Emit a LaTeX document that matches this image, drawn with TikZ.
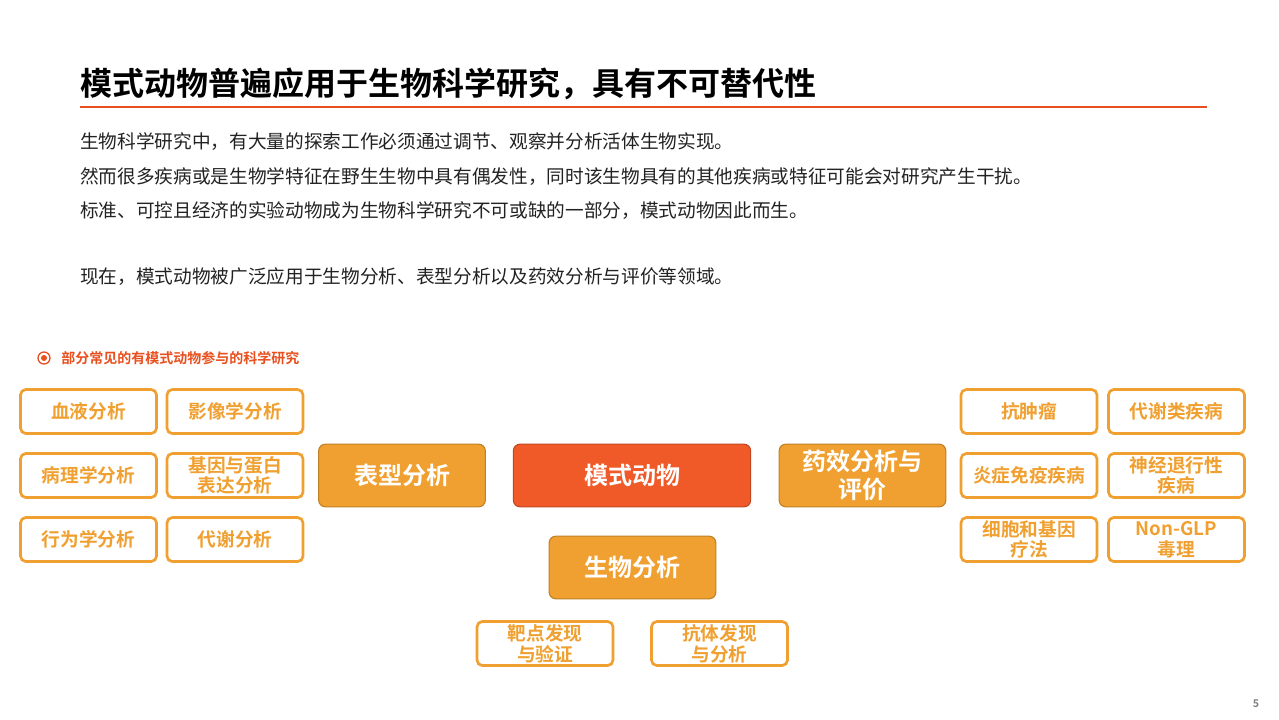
\documentclass[tikz,border=0pt]{standalone}
\usepackage{fontspec}
\setmainfont{Noto Sans CJK SC}
\newfontfamily\cjkb{Noto Sans CJK SC Bold}
\definecolor{org}{HTML}{F0A030}
\definecolor{red1}{HTML}{F05A28}
\definecolor{line1}{HTML}{E8501F}
\definecolor{txt}{HTML}{222222}
\begin{document}
\begin{tikzpicture}[x=0.75pt,y=-0.75pt]
\tikzset{
 sbox/.style={draw=org,line width=2pt,rounded corners=4pt,fill=white,text=org,font=\cjkb\fontsize{14}{15}\selectfont,align=center,minimum width=102pt,minimum height=33pt,inner sep=1pt},
 bbox/.style={draw=org!80!black,line width=0.8pt,rounded corners=5pt,fill=org,text=white,font=\cjkb\fontsize{18}{19}\selectfont,align=center,minimum width=125pt,minimum height=47pt,inner sep=1pt},
 body/.style={anchor=west,text=txt,font=\fontsize{14}{15}\selectfont,inner sep=0}
}
\useasboundingbox (0,0) rectangle (1279,719);
\fill[white] (0,0) rectangle (1279,719);
\node[anchor=west,inner sep=0,font=\cjkb\fontsize{24}{26}\selectfont,text=black] (title) at (80,84) {模式动物普遍应用于生物科学研究，具有不可替代性};
\draw[line1,line width=1.2pt] (80,107) -- (1207,107);
\node[body] (l1) at (80,142) {生物科学研究中，有大量的探索工作必须通过调节、观察并分析活体生物实现。};
\node[body] (l2) at (80,177) {然而很多疾病或是生物学特征在野生生物中具有偶发性，同时该生物具有的其他疾病或特征可能会对研究产生干扰。};
\node[body] (l3) at (80,211) {标准、可控且经济的实验动物成为生物科学研究不可或缺的一部分，模式动物因此而生。};
\node[body] (l4) at (80,277) {现在，模式动物被广泛应用于生物分析、表型分析以及药效分析与评价等领域。};
\draw[line1,line width=1pt] (44,358) circle (6);
\fill[line1] (44,358) circle (3);
\node[anchor=west,inner sep=0,text=line1,font=\cjkb\fontsize{10.5}{11}\selectfont] (leg) at (61,358) {部分常见的有模式动物参与的科学研究};
% small boxes
\node[sbox] (a1) at (88.5,411.5) {血液分析};
\node[sbox] (a2) at (235,411.5) {影像学分析};
\node[sbox] (a3) at (88.5,475.5) {病理学分析};
\node[sbox,font=\cjkb\fontsize{14}{15.5}\selectfont] (a4) at (235,475.5) {基因与蛋白\\表达分析};
\node[sbox] (a5) at (88.5,539.5) {行为学分析};
\node[sbox] (a6) at (235,539.5) {代谢分析};
\node[sbox] (b1) at (1029,411.5) {抗肿瘤};
\node[sbox] (b2) at (1176.5,411.5) {代谢类疾病};
\node[sbox] (b3) at (1029,475.5) {炎症免疫疾病};
\node[sbox,font=\cjkb\fontsize{14}{15.5}\selectfont] (b4) at (1176.5,475.5) {神经退行性\\疾病};
\node[sbox,font=\cjkb\fontsize{14}{15.5}\selectfont] (b5) at (1029,539.5) {细胞和基因\\疗法};
\node[sbox,font=\cjkb\fontsize{14}{15.5}\selectfont] (b6) at (1176.5,539.5) {Non-GLP\\毒理};
\node[sbox,font=\cjkb\fontsize{14}{15.5}\selectfont] (c1) at (545,643.5) {靶点发现\\与验证};
\node[sbox,font=\cjkb\fontsize{14}{15.5}\selectfont] (c2) at (719.5,643.5) {抗体发现\\与分析};
% big boxes
\node[bbox] (p) at (402,475.5) {表型分析};
\node[bbox,fill=red1,draw=red1!80!black,minimum width=178pt] (m) at (632,475.5) {模式动物};
\node[bbox,font=\cjkb\fontsize{18}{21}\selectfont] (d) at (862.5,475.5) {药效分析与\\评价};
\node[bbox] (s) at (632.5,567.5) {生物分析};
\node[text=gray,font=\cjkb\fontsize{8}{9}\selectfont] (pg) at (1256,704) {5};
\end{tikzpicture}
\end{document}
